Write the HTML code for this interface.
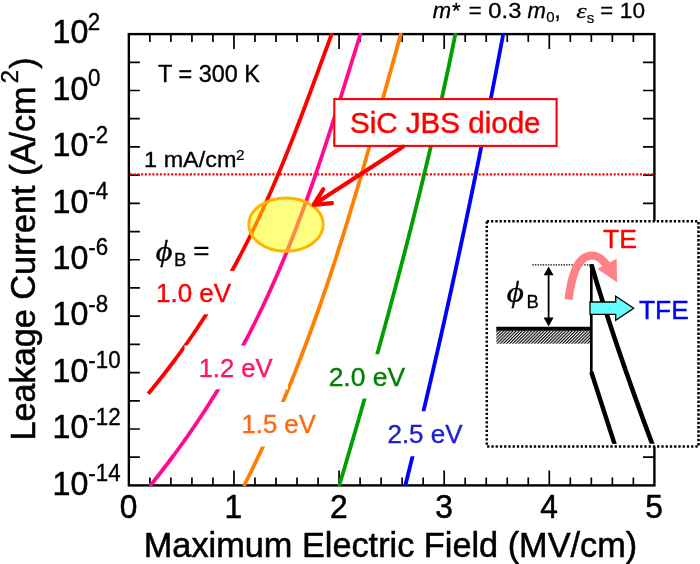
<!DOCTYPE html>
<html lang="en"><head><meta charset="utf-8"><title>Leakage Current vs Maximum Electric Field</title>
<style>html,body{margin:0;padding:0;background:#fff}.sans{font-family:"Liberation Sans",Arial,Helvetica,sans-serif}.serif{font-family:"Liberation Serif","Times New Roman",serif}body{width:700px;height:564px;overflow:hidden}</style></head>
<body>
<svg width="700" height="564" viewBox="0 0 700 564" style="display:block">
<defs><pattern id="hatch" width="2.2" height="2.2" patternUnits="userSpaceOnUse" patternTransform="rotate(-45)"><rect x="0" y="0" width="2.2" height="1.1" fill="#000"/></pattern><clipPath id="plotclip"><rect x="128.85" y="32.9" width="525.55" height="453.69999999999993"/></clipPath><clipPath id="insclip"><rect x="488" y="223" width="209" height="220.7"/></clipPath></defs>
<rect width="700" height="564" fill="#fff"/>
<rect x="128.85" y="34.1" width="525.55" height="451.30" fill="none" stroke="#000" stroke-width="2.4"/>
<path d="M149.87,34.1 v7.8 M149.87,485.4 v-7.8 M170.89,34.1 v7.8 M170.89,485.4 v-7.8 M191.92,34.1 v7.8 M191.92,485.4 v-7.8 M212.94,34.1 v7.8 M212.94,485.4 v-7.8 M233.96,34.1 v15.0 M233.96,485.4 v-15.0 M254.98,34.1 v7.8 M254.98,485.4 v-7.8 M276.00,34.1 v7.8 M276.00,485.4 v-7.8 M297.03,34.1 v7.8 M297.03,485.4 v-7.8 M318.05,34.1 v7.8 M318.05,485.4 v-7.8 M339.07,34.1 v15.0 M339.07,485.4 v-15.0 M360.09,34.1 v7.8 M360.09,485.4 v-7.8 M381.11,34.1 v7.8 M381.11,485.4 v-7.8 M402.14,34.1 v7.8 M402.14,485.4 v-7.8 M423.16,34.1 v7.8 M423.16,485.4 v-7.8 M444.18,34.1 v15.0 M444.18,485.4 v-15.0 M465.20,34.1 v7.8 M465.20,485.4 v-7.8 M486.22,34.1 v7.8 M486.22,485.4 v-7.8 M507.25,34.1 v7.8 M507.25,485.4 v-7.8 M528.27,34.1 v7.8 M528.27,485.4 v-7.8 M549.29,34.1 v15.0 M549.29,485.4 v-15.0 M570.31,34.1 v7.8 M570.31,485.4 v-7.8 M591.33,34.1 v7.8 M591.33,485.4 v-7.8 M612.36,34.1 v7.8 M612.36,485.4 v-7.8 M633.38,34.1 v7.8 M633.38,485.4 v-7.8 M128.85,457.19 h11 M654.4,457.19 h-11.4 M128.85,428.99 h11 M654.4,428.99 h-11.4 M128.85,400.78 h11 M654.4,400.78 h-11.4 M128.85,372.57 h11 M654.4,372.57 h-11.4 M128.85,344.37 h11 M654.4,344.37 h-11.4 M128.85,316.16 h11 M654.4,316.16 h-11.4 M128.85,287.96 h11 M654.4,287.96 h-11.4 M128.85,259.75 h11 M654.4,259.75 h-11.4 M128.85,231.54 h11 M654.4,231.54 h-11.4 M128.85,203.34 h11 M654.4,203.34 h-11.4 M128.85,175.13 h11 M654.4,175.13 h-11.4 M128.85,146.92 h11 M654.4,146.92 h-11.4 M128.85,118.72 h11 M654.4,118.72 h-11.4 M128.85,90.51 h11 M654.4,90.51 h-11.4 M128.85,62.31 h11 M654.4,62.31 h-11.4" stroke="#000" stroke-width="1.7" fill="none"/>
<line x1="129.85" y1="174.3" x2="653.4" y2="174.3" stroke="#ff0000" stroke-width="2.3" stroke-dasharray="2.1 1.65"/>
<g clip-path="url(#plotclip)" fill="none" stroke-width="3.8">
<path d="M332.09,33.00 L330.61,37.00 L329.13,41.00 L327.66,45.00 L326.18,49.00 L324.71,53.00 L323.24,57.00 L321.78,61.00 L320.31,65.00 L318.84,69.00 L317.37,73.00 L315.90,77.00 L314.42,81.00 L312.95,85.00 L311.47,89.00 L309.99,93.00 L308.50,97.00 L307.01,101.00 L305.52,105.00 L304.02,109.00 L302.51,113.00 L300.99,117.00 L299.47,121.00 L297.94,125.00 L296.40,129.00 L294.85,133.00 L293.30,137.00 L291.73,141.00 L290.15,145.00 L288.56,149.00 L286.96,153.00 L285.35,157.00 L283.73,161.00 L282.09,165.00 L280.43,169.00 L278.77,173.00 L277.08,177.00 L275.39,181.00 L273.67,185.00 L271.94,189.00 L270.19,193.00 L268.43,197.00 L266.64,201.00 L264.84,205.00 L263.02,209.00 L261.18,213.00 L259.32,217.00 L257.43,221.00 L255.53,225.00 L253.60,229.00 L251.65,233.00 L249.68,237.00 L247.68,241.00 L245.66,245.00 L243.61,249.00 L241.54,253.00 L239.45,257.00 L237.32,261.00 L235.17,265.00 L232.99,269.00 L230.79,273.00 L228.55,277.00 L226.29,281.00 L224.00,285.00 L221.67,289.00 L219.32,293.00 L216.93,297.00 L214.51,301.00 L212.06,305.00 L209.58,309.00 L207.06,313.00 L204.51,317.00 L201.93,321.00 L199.31,325.00 L196.65,329.00 L193.96,333.00 L191.23,337.00 L188.46,341.00 L185.65,345.00 L182.81,349.00 L179.93,353.00 L177.01,357.00 L174.04,361.00 L171.04,365.00 L168.00,369.00 L164.91,373.00 L161.78,377.00 L158.61,381.00 L155.40,385.00 L152.14,389.00 L148.84,393.00 L148.26,393.70" stroke="#ff0000"/>
<path d="M360.80,33.00 L359.54,37.00 L358.29,41.00 L357.04,45.00 L355.79,49.00 L354.54,53.00 L353.30,57.00 L352.05,61.00 L350.81,65.00 L349.57,69.00 L348.32,73.00 L347.08,77.00 L345.83,81.00 L344.59,85.00 L343.34,89.00 L342.09,93.00 L340.84,97.00 L339.58,101.00 L338.33,105.00 L337.06,109.00 L335.80,113.00 L334.53,117.00 L333.26,121.00 L331.98,125.00 L330.69,129.00 L329.40,133.00 L328.11,137.00 L326.81,141.00 L325.50,145.00 L324.18,149.00 L322.86,153.00 L321.53,157.00 L320.19,161.00 L318.84,165.00 L317.48,169.00 L316.12,173.00 L314.74,177.00 L313.36,181.00 L311.96,185.00 L310.55,189.00 L309.13,193.00 L307.70,197.00 L306.26,201.00 L304.81,205.00 L303.34,209.00 L301.86,213.00 L300.37,217.00 L298.86,221.00 L297.34,225.00 L295.81,229.00 L294.26,233.00 L292.69,237.00 L291.11,241.00 L289.51,245.00 L287.90,249.00 L286.27,253.00 L284.62,257.00 L282.96,261.00 L281.28,265.00 L279.58,269.00 L277.86,273.00 L276.12,277.00 L274.37,281.00 L272.59,285.00 L270.79,289.00 L268.98,293.00 L267.14,297.00 L265.28,301.00 L263.40,305.00 L261.50,309.00 L259.58,313.00 L257.63,317.00 L255.66,321.00 L253.67,325.00 L251.65,329.00 L249.61,333.00 L247.55,337.00 L245.46,341.00 L243.35,345.00 L241.21,349.00 L239.04,353.00 L236.85,357.00 L234.63,361.00 L232.38,365.00 L230.11,369.00 L227.81,373.00 L225.48,377.00 L223.13,381.00 L220.74,385.00 L218.33,389.00 L215.88,393.00 L213.41,397.00 L210.90,401.00 L208.37,405.00 L205.80,409.00 L203.21,413.00 L200.58,417.00 L197.92,421.00 L195.22,425.00 L192.50,429.00 L189.74,433.00 L186.94,437.00 L184.12,441.00 L181.26,445.00 L178.36,449.00 L175.43,453.00 L172.46,457.00 L169.46,461.00 L166.42,465.00 L163.35,469.00 L160.24,473.00 L157.09,477.00 L153.90,481.00 L150.68,485.00 L149.86,486.00" stroke="#ff0a90"/>
<path d="M401.15,33.00 L400.03,37.00 L398.91,41.00 L397.80,45.00 L396.68,49.00 L395.57,53.00 L394.46,57.00 L393.35,61.00 L392.24,65.00 L391.13,69.00 L390.02,73.00 L388.91,77.00 L387.80,81.00 L386.69,85.00 L385.58,89.00 L384.46,93.00 L383.35,97.00 L382.24,101.00 L381.13,105.00 L380.01,109.00 L378.89,113.00 L377.77,117.00 L376.65,121.00 L375.53,125.00 L374.41,129.00 L373.28,133.00 L372.15,137.00 L371.02,141.00 L369.88,145.00 L368.74,149.00 L367.60,153.00 L366.45,157.00 L365.31,161.00 L364.15,165.00 L363.00,169.00 L361.84,173.00 L360.67,177.00 L359.50,181.00 L358.33,185.00 L357.15,189.00 L355.97,193.00 L354.78,197.00 L353.58,201.00 L352.38,205.00 L351.18,209.00 L349.97,213.00 L348.75,217.00 L347.53,221.00 L346.30,225.00 L345.06,229.00 L343.82,233.00 L342.57,237.00 L341.31,241.00 L340.04,245.00 L338.77,249.00 L337.49,253.00 L336.21,257.00 L334.91,261.00 L333.61,265.00 L332.30,269.00 L330.98,273.00 L329.65,277.00 L328.31,281.00 L326.96,285.00 L325.61,289.00 L324.24,293.00 L322.87,297.00 L321.49,301.00 L320.09,305.00 L318.69,309.00 L317.27,313.00 L315.85,317.00 L314.42,321.00 L312.97,325.00 L311.51,329.00 L310.05,333.00 L308.57,337.00 L307.08,341.00 L305.57,345.00 L304.06,349.00 L302.54,353.00 L301.00,357.00 L299.45,361.00 L297.89,365.00 L296.31,369.00 L294.72,373.00 L293.12,377.00 L291.51,381.00 L289.88,385.00 L288.24,389.00 L286.59,393.00 L284.92,397.00 L283.23,401.00 L281.54,405.00 L279.83,409.00 L278.10,413.00 L276.36,417.00 L274.61,421.00 L272.84,425.00 L271.05,429.00 L269.25,433.00 L267.43,437.00 L265.60,441.00 L263.75,445.00 L261.89,449.00 L260.01,453.00 L258.11,457.00 L256.20,461.00 L254.27,465.00 L252.32,469.00 L250.36,473.00 L248.37,477.00 L246.37,481.00 L244.36,485.00 L243.85,486.00" stroke="#ff8000"/>
<path d="M455.59,33.00 L454.78,37.00 L453.97,41.00 L453.15,45.00 L452.32,49.00 L451.49,53.00 L450.66,57.00 L449.82,61.00 L448.98,65.00 L448.13,69.00 L447.28,73.00 L446.42,77.00 L445.56,81.00 L444.69,85.00 L443.82,89.00 L442.95,93.00 L442.07,97.00 L441.18,101.00 L440.29,105.00 L439.40,109.00 L438.50,113.00 L437.60,117.00 L436.69,121.00 L435.78,125.00 L434.86,129.00 L433.94,133.00 L433.02,137.00 L432.09,141.00 L431.15,145.00 L430.22,149.00 L429.28,153.00 L428.33,157.00 L427.38,161.00 L426.43,165.00 L425.47,169.00 L424.51,173.00 L423.54,177.00 L422.57,181.00 L421.60,185.00 L420.62,189.00 L419.64,193.00 L418.65,197.00 L417.66,201.00 L416.67,205.00 L415.67,209.00 L414.67,213.00 L413.67,217.00 L412.66,221.00 L411.65,225.00 L410.64,229.00 L409.62,233.00 L408.59,237.00 L407.57,241.00 L406.54,245.00 L405.51,249.00 L404.47,253.00 L403.43,257.00 L402.39,261.00 L401.34,265.00 L400.29,269.00 L399.24,273.00 L398.18,277.00 L397.12,281.00 L396.06,285.00 L394.99,289.00 L393.92,293.00 L392.85,297.00 L391.77,301.00 L390.70,305.00 L389.61,309.00 L388.53,313.00 L387.44,317.00 L386.35,321.00 L385.26,325.00 L384.16,329.00 L383.06,333.00 L381.96,337.00 L380.85,341.00 L379.74,345.00 L378.63,349.00 L377.52,353.00 L376.40,357.00 L375.28,361.00 L374.16,365.00 L373.04,369.00 L371.91,373.00 L370.78,377.00 L369.65,381.00 L368.52,385.00 L367.38,389.00 L366.24,393.00 L365.10,397.00 L363.95,401.00 L362.81,405.00 L361.66,409.00 L360.51,413.00 L359.35,417.00 L358.20,421.00 L357.04,425.00 L355.88,429.00 L354.71,433.00 L353.55,437.00 L352.38,441.00 L351.21,445.00 L350.04,449.00 L348.87,453.00 L347.69,457.00 L346.52,461.00 L345.34,465.00 L344.16,469.00 L342.97,473.00 L341.79,477.00 L340.60,481.00 L339.41,485.00 L339.12,486.00" stroke="#00a000"/>
<path d="M503.43,33.00 L502.68,37.00 L501.92,41.00 L501.16,45.00 L500.40,49.00 L499.64,53.00 L498.88,57.00 L498.11,61.00 L497.34,65.00 L496.58,69.00 L495.80,73.00 L495.03,77.00 L494.26,81.00 L493.48,85.00 L492.71,89.00 L491.93,93.00 L491.15,97.00 L490.36,101.00 L489.58,105.00 L488.79,109.00 L488.00,113.00 L487.21,117.00 L486.42,121.00 L485.63,125.00 L484.83,129.00 L484.04,133.00 L483.24,137.00 L482.43,141.00 L481.63,145.00 L480.83,149.00 L480.02,153.00 L479.21,157.00 L478.40,161.00 L477.59,165.00 L476.77,169.00 L475.96,173.00 L475.14,177.00 L474.32,181.00 L473.50,185.00 L472.67,189.00 L471.84,193.00 L471.02,197.00 L470.19,201.00 L469.35,205.00 L468.52,209.00 L467.68,213.00 L466.84,217.00 L466.00,221.00 L465.16,225.00 L464.32,229.00 L463.47,233.00 L462.62,237.00 L461.77,241.00 L460.91,245.00 L460.06,249.00 L459.20,253.00 L458.34,257.00 L457.48,261.00 L456.62,265.00 L455.75,269.00 L454.88,273.00 L454.01,277.00 L453.14,281.00 L452.26,285.00 L451.38,289.00 L450.50,293.00 L449.62,297.00 L448.74,301.00 L447.85,305.00 L446.96,309.00 L446.07,313.00 L445.18,317.00 L444.28,321.00 L443.39,325.00 L442.48,329.00 L441.58,333.00 L440.68,337.00 L439.77,341.00 L438.86,345.00 L437.95,349.00 L437.03,353.00 L436.12,357.00 L435.20,361.00 L434.27,365.00 L433.35,369.00 L432.42,373.00 L431.49,377.00 L430.56,381.00 L429.63,385.00 L428.69,389.00 L427.75,393.00 L426.81,397.00 L425.87,401.00 L424.92,405.00 L423.97,409.00 L423.02,413.00 L422.07,417.00 L421.11,421.00 L420.15,425.00 L419.19,429.00 L418.22,433.00 L417.26,437.00 L416.29,441.00 L415.31,445.00 L414.34,449.00 L413.36,453.00 L412.38,457.00 L411.40,461.00 L410.41,465.00 L409.42,469.00 L408.43,473.00 L407.44,477.00 L406.44,481.00 L405.44,485.00 L405.19,486.00" stroke="#0000ff"/>
</g>
<rect x="142" y="270.9" width="105" height="43.4" fill="#fff"/>
<rect x="184.5" y="345.5" width="103.5" height="43.8" fill="#fff"/>
<rect x="228" y="402" width="103" height="44.5" fill="#fff"/>
<rect x="314.5" y="354.25" width="106.5" height="44.25" fill="#fff"/>
<rect x="373" y="411.25" width="105.5" height="45" fill="#fff"/>
<ellipse cx="286" cy="224.6" rx="37.25" ry="26.65" fill="#ffff00" fill-opacity="0.5" stroke="#ffb400" stroke-width="3"/>
<rect x="334.3" y="99.1" width="222.3" height="46.8" fill="#fff" stroke="#ff0000" stroke-width="2.1"/>
<path d="M402.9,146.8 L314.2,204.3 M323.2,189.3 L313.6,204.8 L332,203.2" fill="none" stroke="#ff0000" stroke-width="4.2" stroke-linecap="round" stroke-linejoin="round"/>
<rect x="486.8" y="221.3" width="211.7" height="225.2" fill="#fff" stroke="#000" stroke-width="2.5" stroke-dasharray="2.3 1.95"/>
<line x1="532.3" y1="264.9" x2="592" y2="264.9" stroke="#000" stroke-width="1.4" stroke-dasharray="1.4 1.2"/>
<rect x="496.3" y="330.5" width="94" height="13.2" fill="url(#hatch)"/>
<line x1="496.3" y1="328.8" x2="591.4" y2="328.8" stroke="#000" stroke-width="4"/>
<path d="M548.6,272 V320" stroke="#000" stroke-width="1.8"/><path d="M548.6,266.4 l5,8.8 h-10z M548.6,326.4 l5,-8.8 h-10z" fill="#000"/>
<g clip-path="url(#insclip)"><path d="M591.3,264 V372 L616.5,450" fill="none" stroke="#000" stroke-width="2.7"/>
<path d="M591.3,372 L616.5,450" fill="none" stroke="#000" stroke-width="4.4"/>
<path d="M591.4,264.7 Q 615,345 654.5,450" fill="none" stroke="#000" stroke-width="4.6"/></g>
<path d="M568.5,299.5 C571,280 576,255.5 592,255.5 C599,255.5 604,261 608,267" fill="none" stroke="#ff8088" stroke-width="8.2"/>
<path d="M616.6,258.7 L617.1,282.2 L597.4,269 Z" fill="#ff8088"/>
<path d="M590,302 H615.7 V296.3 L633.7,308.3 L615.7,320.3 V314.3 H590 Z" fill="#66ffff" stroke="#000" stroke-width="1.3" stroke-linejoin="miter"/>
<text transform="translate(52.55,43.30) scale(0.9550,1)" class="sans" font-size="33.7" fill="#000" stroke="#000" stroke-width="0.53">10</text>
<text transform="translate(87.78,29.80) scale(0.9300,1)" class="sans" font-size="24" fill="#000" stroke="#000" stroke-width="0.39">2</text>
<text transform="translate(52.55,99.71) scale(0.9550,1)" class="sans" font-size="33.7" fill="#000" stroke="#000" stroke-width="0.53">10</text>
<text transform="translate(88.03,86.21) scale(0.9300,1)" class="sans" font-size="24" fill="#000" stroke="#000" stroke-width="0.39">0</text>
<text transform="translate(52.55,156.12) scale(0.9550,1)" class="sans" font-size="33.7" fill="#000" stroke="#000" stroke-width="0.53">10</text>
<text transform="translate(88.31,142.62) scale(0.9300,1)" class="sans" font-size="24" fill="#000" stroke="#000" stroke-width="0.39">-2</text>
<text transform="translate(52.55,212.54) scale(0.9550,1)" class="sans" font-size="33.7" fill="#000" stroke="#000" stroke-width="0.53">10</text>
<text transform="translate(88.31,199.04) scale(0.9300,1)" class="sans" font-size="24" fill="#000" stroke="#000" stroke-width="0.39">-4</text>
<text transform="translate(52.55,268.95) scale(0.9550,1)" class="sans" font-size="33.7" fill="#000" stroke="#000" stroke-width="0.53">10</text>
<text transform="translate(88.31,255.45) scale(0.9300,1)" class="sans" font-size="24" fill="#000" stroke="#000" stroke-width="0.39">-6</text>
<text transform="translate(52.55,325.36) scale(0.9550,1)" class="sans" font-size="33.7" fill="#000" stroke="#000" stroke-width="0.53">10</text>
<text transform="translate(88.31,311.86) scale(0.9300,1)" class="sans" font-size="24" fill="#000" stroke="#000" stroke-width="0.39">-8</text>
<text transform="translate(52.55,381.77) scale(0.9550,1)" class="sans" font-size="33.7" fill="#000" stroke="#000" stroke-width="0.53">10</text>
<text transform="translate(88.31,368.27) scale(0.9300,1)" class="sans" font-size="24" fill="#000" stroke="#000" stroke-width="0.39">-10</text>
<text transform="translate(52.55,438.19) scale(0.9550,1)" class="sans" font-size="33.7" fill="#000" stroke="#000" stroke-width="0.53">10</text>
<text transform="translate(88.31,424.69) scale(0.9300,1)" class="sans" font-size="24" fill="#000" stroke="#000" stroke-width="0.39">-12</text>
<text transform="translate(52.55,494.60) scale(0.9550,1)" class="sans" font-size="33.7" fill="#000" stroke="#000" stroke-width="0.53">10</text>
<text transform="translate(88.31,481.10) scale(0.9300,1)" class="sans" font-size="24" fill="#000" stroke="#000" stroke-width="0.39">-14</text>
<text transform="translate(119.74,518.10) scale(0.9400,1)" class="sans" font-size="33.7" fill="#000" stroke="#000" stroke-width="0.54">0</text>
<text transform="translate(224.42,518.10) scale(0.9400,1)" class="sans" font-size="33.7" fill="#000" stroke="#000" stroke-width="0.54">1</text>
<text transform="translate(329.96,518.10) scale(0.9400,1)" class="sans" font-size="33.7" fill="#000" stroke="#000" stroke-width="0.54">2</text>
<text transform="translate(435.16,518.10) scale(0.9400,1)" class="sans" font-size="33.7" fill="#000" stroke="#000" stroke-width="0.54">3</text>
<text transform="translate(540.28,518.10) scale(0.9400,1)" class="sans" font-size="33.7" fill="#000" stroke="#000" stroke-width="0.54">4</text>
<text transform="translate(645.32,518.10) scale(0.9400,1)" class="sans" font-size="33.7" fill="#000" stroke="#000" stroke-width="0.54">5</text>
<text transform="translate(143.79,556.80) scale(0.9915,1)" class="sans" font-size="34.6" fill="#000" stroke="#000" stroke-width="0.52">Maximum Electric Field (MV/cm)</text>
<text transform="translate(432.83,18.10) scale(1.0000,1)" class="sans" font-size="22" font-style="italic" fill="#000" stroke="#000" stroke-width="0.33">m</text>
<text transform="translate(452.05,18.10) scale(1.0000,1)" class="sans" font-size="22" fill="#000" stroke="#000" stroke-width="0.33">*</text>
<text transform="translate(468.63,18.10) scale(1.0000,1)" class="sans" font-size="22" fill="#000" stroke="#000" stroke-width="0.33">=</text>
<text transform="translate(488.37,18.10) scale(1.0980,1)" class="sans" font-size="21.6" fill="#000" stroke="#000" stroke-width="0.30">0.3</text>
<text transform="translate(527.53,18.10) scale(1.0000,1)" class="sans" font-size="22" font-style="italic" fill="#000" stroke="#000" stroke-width="0.33">m</text>
<text transform="translate(546.21,22.20) scale(1.0000,1)" class="sans" font-size="15" fill="#000" stroke="#000" stroke-width="0.22">0</text>
<text transform="translate(554.42,18.10) scale(1.0000,1)" class="sans" font-size="22" fill="#000" stroke="#000" stroke-width="0.33">,</text>
<text transform="translate(576.24,18.10) scale(1.2431,1)" class="serif" font-size="21" font-style="italic" fill="#000" stroke="#000" stroke-width="0.25">ε</text>
<text transform="translate(586.78,22.90) scale(1.0000,1)" class="sans" font-size="15" fill="#000" stroke="#000" stroke-width="0.22">s</text>
<text transform="translate(600.23,18.10) scale(1.0000,1)" class="sans" font-size="22" fill="#000" stroke="#000" stroke-width="0.33">=</text>
<text transform="translate(619.87,18.10) scale(1.0494,1)" class="sans" font-size="21.6" fill="#000" stroke="#000" stroke-width="0.31">10</text>
<text transform="translate(158.02,81.75) scale(0.9937,1)" class="sans" font-size="23.6" fill="#000" stroke="#000" stroke-width="0.36">T = 300 K</text>
<text transform="translate(144.12,167.10) scale(1.0542,1)" class="sans" font-size="22.2" fill="#000" stroke="#000" stroke-width="0.32">1 mA/cm</text>
<text transform="translate(236.02,160.30) scale(1.0000,1)" class="sans" font-size="15.5" fill="#000" stroke="#000" stroke-width="0.23">2</text>
<text transform="translate(155.86,260.50) scale(1.0863,1)" class="serif" font-size="29.5" font-style="italic" fill="#000" stroke="#000" stroke-width="0.41">ϕ</text>
<text transform="translate(173.98,266.10) scale(1.0000,1)" class="sans" font-size="18.5" fill="#000" stroke="#000" stroke-width="0.28">B</text>
<text transform="translate(193.14,258.90) scale(1.1115,1)" class="sans" font-size="25" fill="#000" stroke="#000" stroke-width="0.34">=</text>
<text transform="translate(156.02,301.60) scale(1.0293,1)" class="sans" font-size="25.2" fill="#ff0000" stroke="#ff0000" stroke-width="0.37">1.0 eV</text>
<text transform="translate(198.65,376.60) scale(1.0138,1)" class="sans" font-size="25.2" fill="#ff1469" stroke="#ff1469" stroke-width="0.37">1.2 eV</text>
<text transform="translate(241.44,433.40) scale(1.0208,1)" class="sans" font-size="25.2" fill="#ff6a10" stroke="#ff6a10" stroke-width="0.37">1.5 eV</text>
<text transform="translate(328.67,386.25) scale(1.0493,1)" class="sans" font-size="25.2" fill="#008000" stroke="#008000" stroke-width="0.36">2.0 eV</text>
<text transform="translate(387.44,443.00) scale(1.0318,1)" class="sans" font-size="25.2" fill="#2222cc" stroke="#2222cc" stroke-width="0.37">2.5 eV</text>
<text transform="translate(349.91,132.50) scale(1.0000,1)" class="sans" font-size="29.57" fill="#ff0000" stroke="#ff0000" stroke-width="0.44">SiC JBS diode</text>
<text transform="translate(603.10,247.60) scale(1.0000,1)" class="sans" font-size="26.64" fill="#ff0000" stroke="#ff0000" stroke-width="0.40">TE</text>
<text transform="translate(638.91,318.60) scale(0.9999,1)" class="sans" font-size="26.44" fill="#0000ff" stroke="#0000ff" stroke-width="0.40">TFE</text>
<text transform="translate(506.65,302.30) scale(1.1151,1)" class="serif" font-size="29.5" font-style="italic" fill="#000" stroke="#000" stroke-width="0.40">ϕ</text>
<text transform="translate(526.48,308.00) scale(1.0000,1)" class="sans" font-size="18.5" fill="#000" stroke="#000" stroke-width="0.28">B</text>
<g transform="translate(34.6,437.8) rotate(-90)">
<text transform="translate(-2.81,0.00) scale(0.9683,1)" class="sans" font-size="35.4" fill="#000" stroke="#000" stroke-width="0.55">Leakage Current (A/cm</text>
<text transform="translate(354.49,-16.80) scale(1.0000,1)" class="sans" font-size="24" fill="#000" stroke="#000" stroke-width="0.36">2</text>
<text transform="translate(369.10,0.00) scale(0.9600,1)" class="sans" font-size="35.4" fill="#000" stroke="#000" stroke-width="0.55">)</text>
</g>
</svg>
</body></html>
